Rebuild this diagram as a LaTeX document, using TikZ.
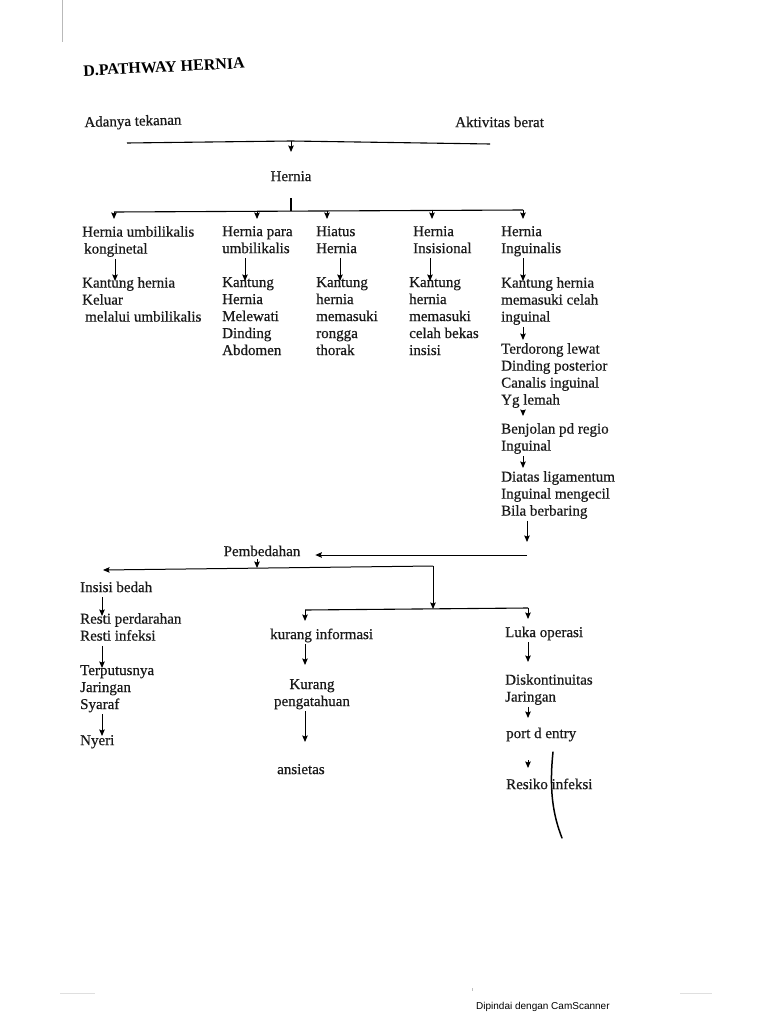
\documentclass[tikz,border=0pt]{standalone}
\usepackage{fontspec}
\setmainfont{Liberation Serif}
\newfontfamily\scanfont{Liberation Serif}[FakeBold=0.5]
\newfontfamily\titlefont{Liberation Serif Bold}
\newfontfamily\csfont{Liberation Sans}
\usetikzlibrary{arrows.meta}
\begin{document}
\begin{tikzpicture}[x=1pt,y=-1pt,
  txt/.style={anchor=north west, inner sep=0pt, align=left, font=\scanfont\fontsize{15}{17}\selectfont, text=black!90, execute at begin node=\strut, execute at end node=\strut},
  arr/.style={-{Stealth[length=6.5pt,width=5.5pt,inset=1pt]}, line width=1pt},
  ln/.style={line width=1.1pt}]
\fill[white] (0,0) rectangle (768,1024);
\useasboundingbox (0,0) rectangle (768,1024);
% scan marks
\draw[gray!55, line width=0.6pt] (62,0) -- (62,42);
\draw[gray!25, line width=0.6pt] (60,993) -- (95,993);
\draw[gray!25, line width=0.6pt] (680,993) -- (712,993);
\draw[gray!50, line width=0.6pt] (472,988) -- (472,991);
% title
\node[font=\titlefont\fontsize{16}{18}\selectfont, rotate=2.8, inner sep=0pt] (title) at (164,67) {D.PATHWAY HERNIA};
\node[txt, rotate=1.5] (adanya) at (84,115) {Adanya tekanan};
\node[txt] (aktiv) at (455,115) {Aktivitas berat};
\coordinate (lL) at (127,143);
\coordinate (lR) at (490,144);
\coordinate (tj) at (291,141);
\draw[ln] (lL) -- (tj) -- (lR);
\node[txt, anchor=north] (hernia) at (291,169) {Hernia};
\draw[arr, shorten >=17pt] (tj) -- (hernia.north);
% branch
\coordinate (b1) at (114,212);
\coordinate (b2) at (257,211);
\coordinate (b3) at (327,211);
\coordinate (b4) at (432,210);
\coordinate (b5) at (523,210);
\coordinate (hj) at (291,211);
\draw[ln] ([yshift=-12pt]hernia.south) -- (hj);
\draw[ln] (b1) -- (b5);
% column heads
\node[txt] (c1a) at (82,226) {Hernia umbilikalis\\\hspace*{2pt}konginetal};
\node[txt] (c2a) at (222,226) {Hernia para\\umbilikalis};
\node[txt] (c3a) at (316,226) {Hiatus\\Hernia};
\node[txt] (c4a) at (413,226) {Hernia\\Insisional};
\node[txt] (c5a) at (501,226) {Hernia\\Inguinalis};
\foreach \b/\c in {b1/c1a,b2/c2a,b3/c3a,b4/c4a,b5/c5a}
  \draw[arr] (\b) -- ([yshift=7pt]\b |- \c.north);
% second level
\node[txt] (c1b) at (82,277) {Kantung hernia\\Keluar\\\hspace*{3pt}melalui umbilikalis};
\node[txt] (c2b) at (222,277) {Kantung\\Hernia\\Melewati\\Dinding\\Abdomen};
\node[txt] (c3b) at (316,277) {Kantung\\hernia\\memasuki\\rongga\\thorak};
\node[txt] (c4b) at (409,277) {Kantung\\hernia\\memasuki\\celah bekas\\insisi};
\node[txt] (c5b) at (501,277) {Kantung hernia\\memasuki celah\\inguinal};
\draw[arr, shorten >=-4pt] ([xshift=33pt]c1a.south west) -- ([xshift=33pt]c1b.north west);
\draw[arr, shorten >=-4pt] ([xshift=23pt]c2a.south west) -- ([xshift=23pt]c2b.north west);
\draw[arr, shorten >=-4pt] ([xshift=24pt]c3a.south west) -- ([xshift=24pt]c3b.north west);
\draw[arr, shorten >=-4pt] ([xshift=17pt]c4a.south west) -- ([xshift=17pt]c4a.south west |- c4b.north);
\draw[arr, shorten >=-4pt] ([xshift=22pt]c5a.south west) -- ([xshift=22pt]c5b.north west);
% inguinal chain
\node[txt] (c5c) at (501,343) {Terdorong lewat\\Dinding posterior\\Canalis inguinal\\Yg lemah};
\node[txt] (c5d) at (501,423) {Benjolan pd regio\\Inguinal};
\node[txt] (c5e) at (501,471) {Diatas ligamentum\\Inguinal mengecil\\Bila berbaring};
\draw[arr, shorten >=3pt] ([xshift=22pt]c5b.south west) -- ([xshift=22pt]c5c.north west);
\draw[arr, shorten >=7pt] ([xshift=22pt]c5c.south west) -- ([xshift=22pt]c5d.north west);
\draw[arr, shorten >=3pt] ([xshift=22pt]c5d.south west) -- ([xshift=22pt]c5e.north west);
% pembedahan
\node[txt, anchor=north, outer xsep=15pt] (pemb) at (262,544) {Pembedahan};
\coordinate (pA) at (527,542);
\coordinate (pB) at (527,555);
\draw[arr] ([xshift=26pt]c5e.south west) -- (pA);
\draw[arr] (pB) -- (pemb.east |- pB);
\coordinate (m1) at (257,568);
\draw[arr] ([xshift=-5pt,yshift=2pt]pemb.south) -- (m1);
\coordinate (h2R) at (433,566);
\coordinate (h2L) at (103,570);
\coordinate (j3) at (433,609);
\draw[arr] (h2R) -- (h2L);
\draw[arr] (h2R) -- (j3);
\coordinate (k1) at (305,610);
\coordinate (k2) at (528,608);
\draw[ln] (k1) -- (k2);
% left chain
\node[txt] (insisi) at (80,580) {Insisi bedah};
\node[txt] (resti) at (80,613) {Resti perdarahan\\Resti infeksi};
\node[txt] (terput) at (80,665) {Terputusnya\\Jaringan\\Syaraf};
\node[txt] (nyeri) at (80,733) {Nyeri};
\draw[arr, shorten >=-3pt] ([xshift=22pt]insisi.south west) -- ([xshift=22pt]resti.north west);
\draw[arr, shorten >=-3pt] ([xshift=22pt]resti.south west) -- ([xshift=22pt]terput.north west);
\draw[arr, shorten >=-3pt] ([xshift=22pt]terput.south west) -- ([xshift=22pt]nyeri.north west);
% middle chain
\node[txt] (kinfo) at (270,627) {kurang informasi};
\node[txt, anchor=north, align=center] (kurang) at (312,679) {Kurang\\pengatahuan};
\node[txt] (ansietas) at (277,762) {ansietas};
\draw[arr] (k1) -- ([yshift=6pt]k1 |- kinfo.north);
\draw[arr, shorten >=14pt] ([xshift=35pt]kinfo.south west) -- ([xshift=35pt]kinfo.south west |- kurang.north);
\draw[arr, shorten >=20pt] ([xshift=35pt]kinfo.south west |- kurang.south) -- ([xshift=35pt]kinfo.south west |- ansietas.north);
% right chain
\node[txt] (luka) at (505,625) {Luka operasi};
\node[txt] (disk) at (505,674) {Diskontinuitas\\Jaringan};
\node[txt] (port) at (506,726) {port d entry};
\node[txt] (resiko) at (506,777) {Resiko infeksi};
\draw[arr] (k2) -- ([yshift=6pt]k2 |- luka.north);
\draw[arr, shorten >=12pt] ([xshift=23pt]luka.south west) -- ([xshift=23pt]disk.north west);
\draw[arr, shorten >=8pt] ([xshift=23pt]disk.south west) -- ([xshift=23pt]disk.south west |- port.north);
\draw[arr, shorten <=17pt, shorten >=9pt] ([xshift=22pt]port.south west) -- ([xshift=22pt]resiko.north west);
% pen stroke
\draw[line width=1.5pt, line cap=round] (553,752) .. controls (549,790) and (553,815) .. (562,838);
% footer
\node[font=\csfont\fontsize{10}{12}\selectfont, anchor=west, inner sep=0pt] (cs) at (476,1007) {Dipindai dengan CamScanner};
\end{tikzpicture}
\end{document}
